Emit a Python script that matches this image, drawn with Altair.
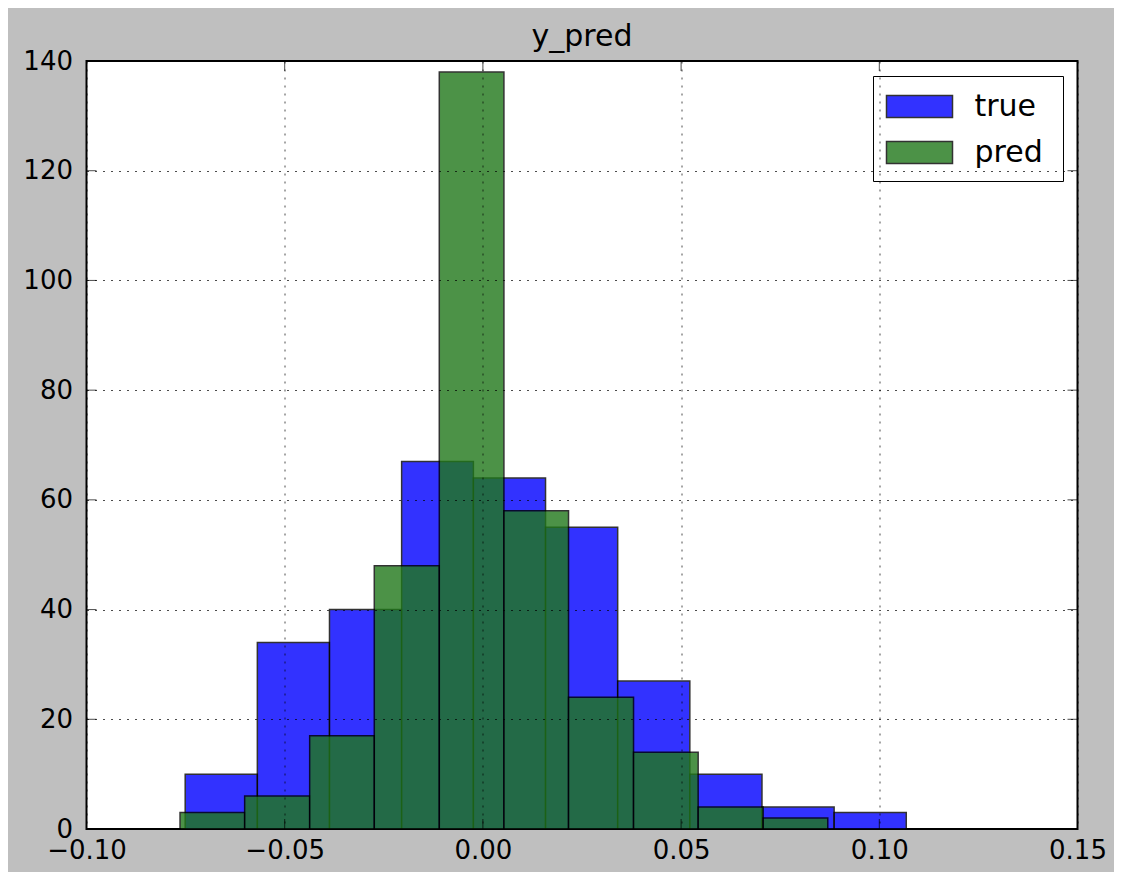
import altair as alt
import pandas as pd

# ---- data ----
series = ["true", "pred"]
true_edges = [-0.0751, -0.0569, -0.0387, -0.0205, -0.0024, 0.0158, 0.0340, 0.0522, 0.0704, 0.0886, 0.1068]
true_counts = [10, 34, 40, 67, 64, 55, 27, 10, 4, 3]
pred_edges = [-0.0764, -0.0601, -0.0437, -0.0274, -0.0110, 0.0053, 0.0216, 0.0380, 0.0543, 0.0707, 0.0870]
pred_counts = [3, 6, 17, 48, 138, 58, 24, 14, 4, 2]
x_ticks = [-0.10, -0.05, 0.00, 0.05, 0.10, 0.15]
y_ticks = [0, 20, 40, 60, 80, 100, 120, 140]

rows = []
for name, edges, counts in [("true", true_edges, true_counts), ("pred", pred_edges, pred_counts)]:
    for i, c in enumerate(counts):
        rows.append({"series": name, "x0": edges[i], "x1": edges[i + 1], "count": c, "base": 0})
df = pd.DataFrame(rows)

W, H = 991, 768
FONT = "DejaVu Sans"
xs = alt.Scale(domain=[-0.10, 0.15], nice=False, zero=False)
ys = alt.Scale(domain=[0, 140], nice=False)

bars = alt.Chart(df).mark_rect(opacity=0.8, stroke="black", strokeWidth=1.5).encode(
    x=alt.X("x0:Q", scale=xs, axis=alt.Axis(
        values=x_ticks, format=".2f", title=None, grid=True, ticks=False, tickSize=0,
        domain=False, labelPadding=29, labelBaseline="alphabetic", labelFontSize=26,
        labelFont=FONT, labelColor="black", zindex=1, labelFlush=False)),
    x2="x1:Q",
    y=alt.Y("count:Q", scale=ys, axis=alt.Axis(
        values=y_ticks, title=None, grid=True, ticks=False, tickSize=0, domain=False,
        labelPadding=14, labelBaseline="middle", labelFontSize=26, labelFont=FONT,
        labelColor="black", zindex=1, labelFlush=False)),
    y2="base:Q",
    color=alt.Color("series:N", scale=alt.Scale(domain=series, range=["#0000ff", "#20781a"]),
                    legend=alt.Legend(
                        title="\u00a0", titleOrient="bottom", titlePadding=4,
                        titleFontSize=2, titleFont=FONT,
                        orient="none", legendX=786.5, legendY=15,
                        symbolType="M-1.5,-0.5H1.5V0.5H-1.5Z", symbolSize=1936,
                        symbolOpacity=0.8, symbolStrokeColor="black", symbolStrokeWidth=1.5,
                        symbolOffset=16, labelOffset=32, labelFontSize=30, labelFont=FONT,
                        labelColor="black", padding=7.5, rowPadding=8,
                        labelExpr="datum.label + '\u2009\u2009\u200b'",
                        strokeColor="black", fillColor="white")),
)

xt = pd.DataFrame({"v": x_ticks})
yt = pd.DataFrame({"v": y_ticks})
tick_style = dict(color="black", strokeWidth=1, opacity=0.7)
xb = alt.Chart(xt).mark_rule(**tick_style).encode(
    x=alt.X("v:Q", scale=xs, axis=None), y=alt.value(H), y2=alt.value(H - 10))
xtop = alt.Chart(xt).mark_rule(**tick_style).encode(
    x=alt.X("v:Q", scale=xs, axis=None), y=alt.value(0), y2=alt.value(10))
yl = alt.Chart(yt).mark_rule(**tick_style).encode(
    y=alt.Y("v:Q", scale=ys, axis=None), x=alt.value(0), x2=alt.value(10))
yr = alt.Chart(yt).mark_rule(**tick_style).encode(
    y=alt.Y("v:Q", scale=ys, axis=None), x=alt.value(W), x2=alt.value(W - 10))

chart = alt.layer(bars, xb, xtop, yl, yr).resolve_axis(
    x="independent", y="independent"
).properties(
    width=W, height=H,
    title=alt.TitleParams("y_pred", fontSize=30, font=FONT, fontWeight="normal",
                          color="black", frame="group", anchor="middle",
                          baseline="alphabetic", offset=15, dy=43),
    autosize=alt.AutoSizeParams(type="none"),
    padding={"left": 78.5, "top": 53, "right": 36.5, "bottom": 43},
    background="#bfbfbf",
).configure_view(
    stroke="black", strokeWidth=2, fill="white"
).configure_axis(
    gridColor="black", gridDash=[2, 6], gridOpacity=0.7, gridWidth=1
)

chart.save("out.html", embed_options={"renderer": "svg", "actions": False})
